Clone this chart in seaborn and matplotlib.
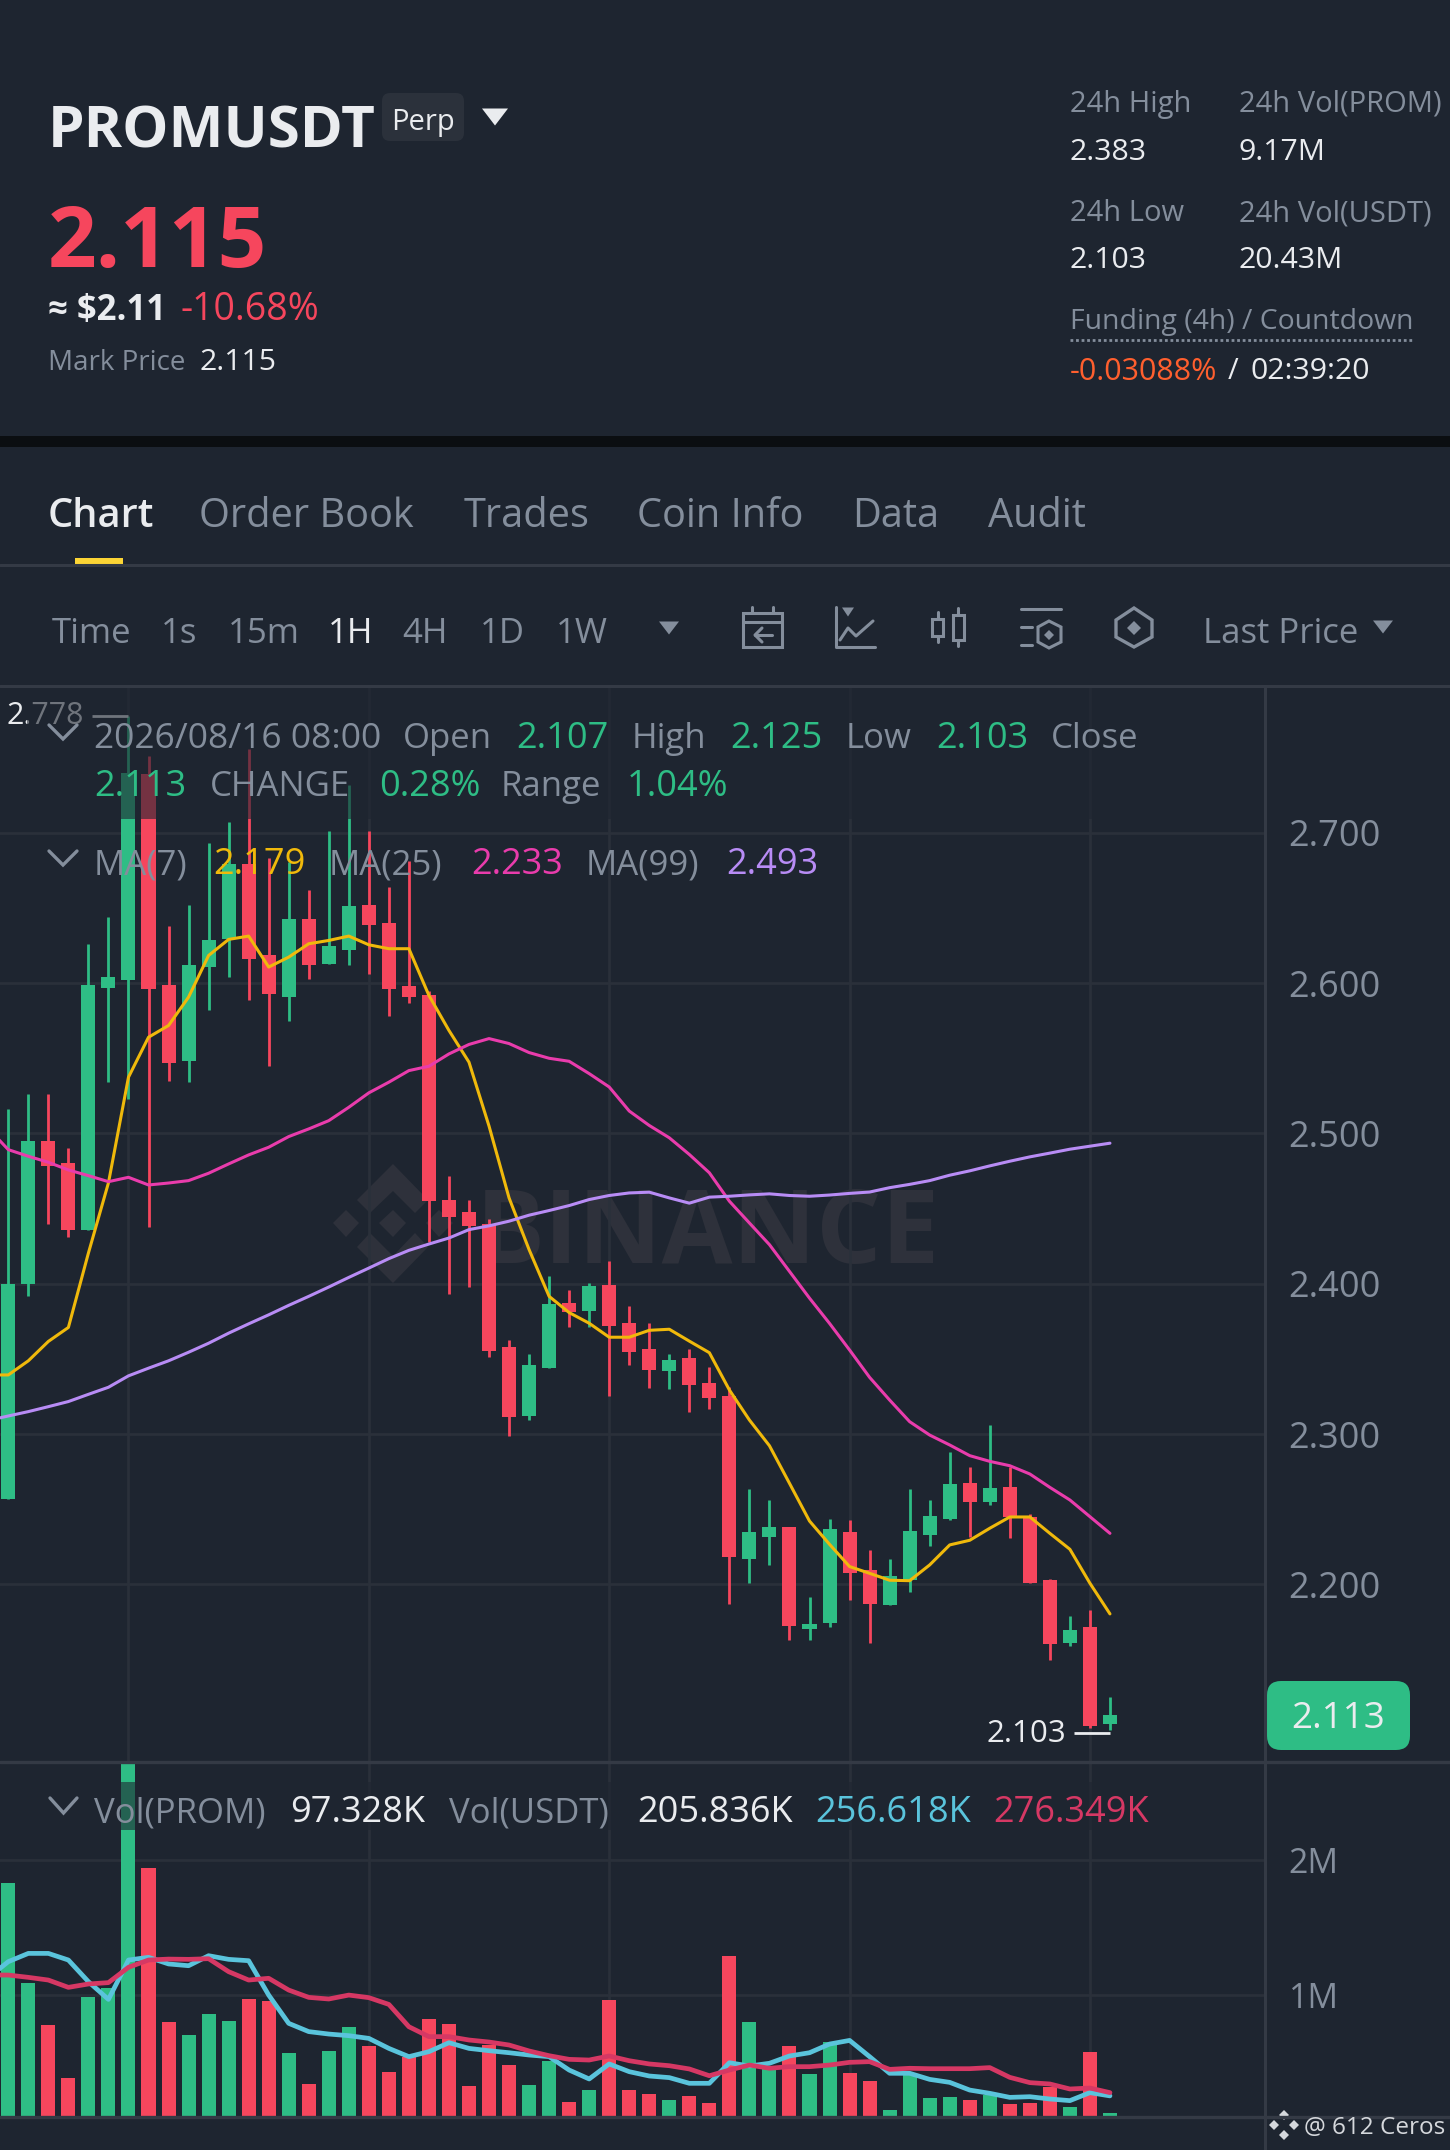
#!/usr/bin/env python

import numpy as np
import seaborn as sb
import matplotlib.pyplot as plt
from matplotlib.patches import FancyBboxPatch, Polygon, Rectangle

BG = "#1E2530"
GREEN = "#2EBD85"
RED = "#F6465D"
GREY = "#848E9C"
WHITE = "#EAECEF"
GRID = "#2A303A"
EDGE = "#343A45"

opens = [2.257, 2.400, 2.495, 2.480, 2.436, 2.597, 2.602, 2.739, 2.599, 2.5485, 2.611, 2.6295, 2.679, 2.619,
         2.591, 2.643, 2.613, 2.622, 2.652, 2.640, 2.598, 2.592, 2.456, 2.4474, 2.440, 2.358, 2.3117, 2.3438,
         2.3875, 2.3816, 2.3994, 2.3737, 2.3563, 2.3417, 2.3504, 2.3337, 2.3255, 2.2169, 2.2317, 2.2384, 2.1701,
         2.1741, 2.2346, 2.2095, 2.186, 2.2029, 2.2328, 2.2437, 2.2676, 2.2548, 2.2647, 2.2446, 2.2029, 2.1608,
         2.1718, 2.107]
closes = [2.400, 2.495, 2.478, 2.436, 2.599, 2.604, 2.740, 2.596, 2.547, 2.612, 2.629, 2.679, 2.616, 2.593,
          2.643, 2.612, 2.625, 2.651, 2.639, 2.596, 2.591, 2.455, 2.4445, 2.4386, 2.3554, 2.311, 2.3456, 2.3866,
          2.3813, 2.3985, 2.3716, 2.3547, 2.3428, 2.3495, 2.3329, 2.3237, 2.218, 2.2346, 2.2384, 2.1723, 2.1736,
          2.2366, 2.2078, 2.1871, 2.2058, 2.2357, 2.2457, 2.2667, 2.255, 2.2639, 2.2446, 2.2011, 2.1601, 2.1698,
          2.1058, 2.113]
highs = [2.516, 2.526, 2.526, 2.490, 2.626, 2.644, 2.778, 2.751, 2.638, 2.652, 2.693, 2.707, 2.756, 2.683,
         2.6805, 2.662, 2.701, 2.732, 2.701, 2.664, 2.681, 2.595, 2.472, 2.456, 2.443, 2.3625, 2.3535, 2.4053,
         2.3956, 2.4005, 2.4153, 2.3854, 2.3737, 2.3535, 2.3563, 2.3443, 2.331, 2.2636, 2.2559, 2.2384, 2.1918,
         2.2437, 2.2428, 2.2228, 2.2166, 2.2636, 2.2559, 2.2878, 2.2778, 2.3058, 2.2783, 2.2468, 2.2038, 2.1789,
         2.1829, 2.125]
lows = [2.257, 2.392, 2.440, 2.431, 2.436, 2.534, 2.523, 2.438, 2.535, 2.534, 2.582, 2.604, 2.589, 2.545,
        2.5745, 2.603, 2.613, 2.612, 2.606, 2.578, 2.587, 2.4277, 2.393, 2.3975, 2.351, 2.299, 2.309, 2.3438,
        2.3709, 2.3713, 2.3255, 2.3456, 2.3309, 2.3297, 2.3148, 2.3169, 2.187, 2.201, 2.2129, 2.163, 2.163,
        2.1718, 2.1896, 2.1612, 2.186, 2.1949, 2.2257, 2.2428, 2.2317, 2.2528, 2.2308, 2.2011, 2.1499, 2.159,
        2.1042, 2.103]

volumes = [1.828, 1.094, 0.778, 0.387, 0.988, 1.052, 2.71, 1.938, 0.803, 0.709, 0.860, 0.808, 0.970, 0.958,
           0.571, 0.345, 0.589, 0.768, 0.628, 0.431, 0.547, 0.825, 0.788, 0.328, 0.633, 0.483, 0.335, 0.517,
           0.209, 0.298, 0.966, 0.300, 0.268, 0.227, 0.254, 0.202, 1.288, 0.805, 0.461, 0.626, 0.416, 0.658,
           0.429, 0.369, 0.155, 0.411, 0.244, 0.251, 0.227, 0.264, 0.195, 0.205, 0.325, 0.175, 0.579, 0.128]

# moving averages start one hour left of the first visible candle
ma7 = [2.3393, 2.3393, 2.3487, 2.3616, 2.3709, 2.4204, 2.4671, 2.5374, 2.564, 2.5718, 2.5907, 2.6184, 2.6291,
       2.6313, 2.6107, 2.6173, 2.6262, 2.6284, 2.6313, 2.6255, 2.6229, 2.6229, 2.5918, 2.5685, 2.5474, 2.5049,
       2.4571, 2.4227, 2.3916, 2.3808, 2.3737, 2.3644, 2.3644, 2.369, 2.3697, 2.3618, 2.3541, 2.3293, 2.3093,
       2.2922, 2.2672, 2.2421, 2.2266, 2.2118, 2.2073, 2.2027, 2.2024, 2.2129, 2.2262, 2.2293, 2.2373, 2.2448,
       2.2448, 2.2339, 2.2233, 2.2007, 2.1803]
ma25 = [2.5033, 2.4892, 2.4848, 2.4808, 2.4757, 2.4719, 2.4679, 2.4708, 2.4657, 2.467, 2.4686, 2.4735, 2.4797,
        2.4857, 2.4908, 2.4979, 2.503, 2.5085, 2.5174, 2.527, 2.5341, 2.5418, 2.5447, 2.5529, 2.5592, 2.5631,
        2.5598, 2.5538, 2.55, 2.548, 2.5398, 2.5309, 2.5149, 2.5053, 2.4971, 2.486, 2.4738, 2.4549, 2.4404,
        2.426, 2.4082, 2.3904, 2.3736, 2.3559, 2.3377, 2.3226, 2.3082, 2.2993, 2.2927, 2.2856, 2.2818, 2.2789,
        2.2734, 2.2645, 2.2561, 2.245, 2.2339]
ma99 = [2.309, 2.312, 2.3149, 2.3182, 2.3216, 2.3264, 2.3311, 2.3387, 2.3438, 2.3487, 2.3544, 2.3604, 2.3671,
        2.3733, 2.3793, 2.3856, 2.3916, 2.3978, 2.4042, 2.4104, 2.4167, 2.4222, 2.4264, 2.4304, 2.436, 2.4385,
        2.4416, 2.4456, 2.4487, 2.452, 2.456, 2.4587, 2.4604, 2.4609, 2.4571, 2.4536, 2.4576, 2.4582, 2.4591,
        2.4598, 2.4587, 2.4582, 2.459, 2.4601, 2.461, 2.4639, 2.4661, 2.4686, 2.4722, 2.4751, 2.4784, 2.4815,
        2.4844, 2.4869, 2.4895, 2.4915, 2.4935]
vol_ma_fast = [1.13, 1.249, 1.310, 1.310, 1.261, 1.101, 0.970, 1.261, 1.281, 1.232, 1.219, 1.293, 1.266, 1.256,
               1.002, 0.793, 0.732, 0.714, 0.702, 0.682, 0.608, 0.547, 0.584, 0.650, 0.608, 0.591, 0.576, 0.559,
               0.547, 0.448, 0.382, 0.493, 0.436, 0.404, 0.392, 0.350, 0.350, 0.502, 0.478, 0.498, 0.552, 0.576,
               0.640, 0.667, 0.547, 0.424, 0.424, 0.379, 0.357, 0.300, 0.276, 0.246, 0.251, 0.234, 0.222, 0.281,
               0.257]
vol_ma_slow = [1.15, 1.150, 1.133, 1.113, 1.059, 1.084, 1.094, 1.207, 1.261, 1.268, 1.266, 1.271, 1.175, 1.113,
               1.126, 1.039, 0.985, 0.973, 1.002, 0.983, 0.933, 0.768, 0.695, 0.695, 0.670, 0.655, 0.633, 0.589,
               0.554, 0.527, 0.522, 0.552, 0.517, 0.493, 0.480, 0.456, 0.406, 0.448, 0.485, 0.461, 0.473, 0.473,
               0.485, 0.505, 0.510, 0.453, 0.461, 0.458, 0.458, 0.458, 0.466, 0.394, 0.355, 0.345, 0.308, 0.315,
               0.281]

price_ticks = [2.2, 2.3, 2.4, 2.5, 2.6, 2.7]
vol_ticks = [1, 2]
vol_tick_labels = ["1M", "2M"]
time_grid = [6, 18, 30, 42, 54]

W, H = 1450, 2150


def px_axes(fig, left, top, right, bottom, **kw):
    return fig.add_axes([left / W, 1 - bottom / H, (right - left) / W, (bottom - top) / H], **kw)


def style_axes(ax, tick_size):
    ax.patch.set_alpha(0)
    for spine in ax.spines.values():
        spine.set_visible(False)
    ax.set_xlim(-0.414, 62.74)
    ax.set_xticks(time_grid)
    ax.set_xticklabels([])
    ax.tick_params(axis="x", length=0)
    ax.yaxis.tick_right()
    ax.tick_params(axis="y", length=0, pad=17, labelsize=tick_size, labelcolor=GREY)
    for tick in ax.get_yticklabels():
        tick.set_va("center_baseline")
    ax.grid(True, color=GRID, linewidth=2)
    ax.set_axisbelow(True)
    ax.set_xlabel(None)
    ax.set_ylabel(None)


def draw_watermark(ax):
    parts = [
        [(357, 1200), (393, 1164), (428, 1200), (415, 1213), (393, 1191), (370, 1213)],
        [(357, 1247), (393, 1283), (428, 1247), (415, 1233), (393, 1256), (370, 1233)],
        [(393, 1210), (406, 1223), (393, 1237), (379, 1223)],
        [(346, 1210), (359, 1223), (346, 1237), (333, 1223)],
        [(439, 1210), (453, 1223), (439, 1237), (426, 1223)],
    ]
    for part in parts:
        ax.add_patch(Polygon(part, closed=True, color="#2E313B", lw=0))
    ax.text(476, 1224, "BINANCE", color="#2E313B", fontsize=74, fontweight="bold",
            va="center_baseline", ha="left")


def draw_price_panel(ax):
    hours = np.arange(len(opens))
    op, cl = np.array(opens), np.array(closes)
    up = cl >= op
    colors = [GREEN if u else RED for u in up]
    ax.vlines(hours, lows, highs, colors=colors, linewidth=2, zorder=2)
    ax.bar(hours, np.abs(cl - op), bottom=np.minimum(op, cl), width=0.7, color=colors, linewidth=0, zorder=2)

    ma_hours = np.arange(-1, len(opens))
    sb.lineplot(x=ma_hours, y=ma7, ax=ax, color="#F0B90B", linewidth=2.2, zorder=3)
    sb.lineplot(x=ma_hours, y=ma25, ax=ax, color="#E93CAC", linewidth=2.2, zorder=3)
    sb.lineplot(x=ma_hours, y=ma99, ax=ax, color="#B88CF5", linewidth=2.2, zorder=3)

    ax.set_ylim(2.0811, 2.7977)
    ax.set_yticks(price_ticks)
    ax.set_yticklabels([f"{t:.3f}" for t in price_ticks])
    style_axes(ax, 26)

    # highest / lowest markers
    ax.hlines(max(highs), 4.2, 6, color=WHITE, linewidth=2, zorder=3)
    ax.text(3.8, max(highs) + 0.002, "2.778", color=WHITE, fontsize=22, ha="right", va="center_baseline", zorder=3)
    ax.hlines(min(lows) - 0.002, 53.2, 55, color=WHITE, linewidth=2, zorder=3)
    ax.text(52.8, min(lows), "2.103", color=WHITE, fontsize=22.5, ha="right", va="center_baseline", zorder=3)


def draw_volume_panel(ax):
    hours = np.arange(len(volumes))
    direction = ["up" if c >= o else "down" for o, c in zip(opens, closes)]
    sb.barplot(x=hours, y=volumes, hue=direction, palette={"up": GREEN, "down": RED}, native_scale=True,
               dodge=False, width=0.7, saturation=1, linewidth=0, legend=False, ax=ax, zorder=2)
    ma_hours = np.arange(-1, len(volumes))
    sb.lineplot(x=ma_hours, y=vol_ma_fast, ax=ax, color="#5AC4DC", linewidth=3.4, zorder=3)
    sb.lineplot(x=ma_hours, y=vol_ma_slow, ax=ax, color="#D63864", linewidth=3.4, zorder=3)
    ax.set_ylim(0.101, 2.717)
    ax.set_yticks(vol_ticks)
    ax.set_yticklabels(vol_tick_labels)
    style_axes(ax, 24.5)


def draw_chevron(ui, x0, x1, y0, y1):
    ui.plot([x0, (x0 + x1) / 2, x1], [y0, y1, y0], color=GREY, linewidth=2.4, solid_joinstyle="miter")


def draw_triangle(ui, cx, cy, w, h, color):
    ui.add_patch(Polygon([(cx - w / 2, cy - h / 2), (cx + w / 2, cy - h / 2), (cx, cy + h / 2)],
                         closed=True, color=color, lw=0))


def draw_icons(ui):
    kw = dict(color=GREY, linewidth=2.2, solid_capstyle="round")
    # calendar
    ui.add_patch(Rectangle((743, 613), 39, 34, fill=False, edgecolor=GREY, linewidth=2.2))
    ui.plot([743, 782], [622, 622], **kw)
    ui.plot([752, 752], [607, 613], **kw)
    ui.plot([773, 773], [607, 613], **kw)
    ui.plot([755, 772], [635, 635], **kw)
    ui.plot([762, 755, 762], [628, 635, 642], **kw)
    # indicator chart
    ui.plot([836, 836, 875], [607, 647, 647], **kw)
    ui.plot([840, 848, 856, 873], [640, 628, 636, 621], **kw)
    draw_triangle(ui, 848, 612, 12, 9, GREY)
    # candles
    ui.add_patch(Rectangle((932, 619), 11, 17, fill=False, edgecolor=GREY, linewidth=2.2))
    ui.add_patch(Rectangle((953, 615), 11, 25, fill=False, edgecolor=GREY, linewidth=2.2))
    ui.plot([938, 938], [612, 619], **kw)
    ui.plot([938, 938], [636, 642], **kw)
    ui.plot([958, 958], [608, 615], **kw)
    ui.plot([958, 958], [640, 646], **kw)
    # settings with hexagon
    ui.plot([1021, 1061], [609, 609], **kw)
    ui.plot([1021, 1032], [627, 627], **kw)
    ui.plot([1021, 1032], [645, 645], **kw)
    ui.add_patch(Polygon([(1049, 621), (1061, 627), (1061, 642), (1049, 648), (1038, 642), (1038, 627)],
                         closed=True, fill=False, edgecolor=GREY, linewidth=2.2))
    ui.add_patch(Polygon([(1049, 630), (1054, 635), (1049, 640), (1044, 635)], closed=True, color=GREY, lw=0))
    # hexagon
    ui.add_patch(Polygon([(1134, 608), (1152, 620), (1152, 637), (1134, 647), (1116, 637), (1116, 620)],
                         closed=True, fill=False, edgecolor=GREY, linewidth=2.4))
    ui.add_patch(Polygon([(1134, 621), (1141, 628), (1134, 635), (1127, 628)], closed=True, color=GREY, lw=0))


def draw_ui(ui):
    def label(x, y, s, color=GREY, size=21, weight="normal", ha="left"):
        ui.text(x, y, s, color=color, fontsize=size, fontweight=weight, ha=ha, va="center_baseline")

    # dim band under the legend rows, candles show through it
    ui.add_patch(Rectangle((27, 686), 1123, 133, color=BG, alpha=0.6, lw=0))
    ui.add_patch(Rectangle((27, 1782), 1123, 48, color=BG, alpha=0.6, lw=0))

    # header
    ui.add_patch(Rectangle((0, 436), W, 11, color="#0B0E11", lw=0))
    label(48, 125, "PROMUSDT", WHITE, 42, "bold")
    ui.add_patch(FancyBboxPatch((382, 93), 82, 48, boxstyle="round,pad=0,rounding_size=8", color="#2B313B", lw=0))
    label(423, 119, "Perp", WHITE, 21, ha="center")
    draw_triangle(ui, 495, 117, 26, 17, WHITE)
    label(48, 235, "2.115", RED, 61.5, "bold")
    label(48, 306, "≈ $2.11", WHITE, 25, "bold")
    label(181, 306, "-10.68%", RED, 27)
    label(48, 359, "Mark Price", GREY, 20)
    label(200, 359, "2.115", WHITE, 21.8)

    label(1070, 101, "24h High")
    label(1239, 101, "24h Vol(PROM)")
    label(1070, 149, "2.383", WHITE, 21.8)
    label(1239, 149, "9.17M", WHITE, 21.8)
    label(1070, 210, "24h Low")
    label(1239, 210, "24h Vol(USDT)")
    label(1070, 257, "2.103", WHITE, 21.8)
    label(1239, 257, "20.43M", WHITE, 21.8)
    label(1070, 318, "Funding (4h) / Countdown", GREY, 20.4)
    ui.plot([1070, 1413], [340, 340], color=GREY, linewidth=2, linestyle=(0, (1, 1)))
    label(1070, 368, "-0.03088%", "#FF5F2E", 22)
    label(1228, 368, "/", WHITE)
    label(1251, 368, "02:39:20", WHITE, 21.8)

    # tabs
    for x, s in zip([199, 464, 637, 852, 988], ["Order Book", "Trades", "Coin Info", "Data", "Audit"]):
        label(x, 512, s, GREY, 28.6)
    label(48, 512, "Chart", WHITE, 28.6, "semibold")
    ui.plot([0, W], [565, 565], color=EDGE, linewidth=2.2)
    ui.add_patch(Rectangle((75, 558), 48, 9, color="#FCD535", lw=0))

    # toolbar
    for x, s in zip([52, 161, 228, 402, 480, 556], ["Time", "1s", "15m", "4H", "1D", "1W"]):
        label(x, 630, s, GREY, 25)
    label(328, 630, "1H", WHITE, 25)
    draw_triangle(ui, 669, 628, 20, 13, GREY)
    draw_icons(ui)
    label(1203, 630, "Last Price", GREY, 25)
    draw_triangle(ui, 1383, 627, 20, 13, GREY)
    ui.plot([0, W], [686, 686], color=EDGE, linewidth=2.2)

    # panel frame
    ui.plot([1265, 1265], [686, H], color=EDGE, linewidth=2.2)
    ui.plot([0, W], [1762, 1762], color=EDGE, linewidth=2.4)
    ui.plot([0, W], [2117, 2117], color=EDGE, linewidth=2.4)

    # price legend
    draw_chevron(ui, 49, 77, 725, 739)
    label(94, 735, "2026/08/16 08:00", GREY, 25.5)
    for x, s in zip([403, 632, 846, 1051], ["Open", "High", "Low", "Close"]):
        label(x, 735, s, GREY, 25)
    for x, s in zip([516, 730, 936], ["2.107", "2.125", "2.103"]):
        label(x, 735, s, GREEN, 26)
    for x, s, c, z in zip([94, 210, 379, 501, 627], ["2.113", "CHANGE", "0.28%", "Range", "1.04%"],
                          [GREEN, GREY, GREEN, GREY, GREEN], [26, 25, 26, 25, 26]):
        label(x, 783, s, c, z)
    draw_chevron(ui, 49, 77, 851, 865)
    for x, s, c, z in zip([94, 213, 329, 471, 586, 726], ["MA(7)", "2.179", "MA(25)", "2.233", "MA(99)", "2.493"],
                          [GREY, "#F0B90B", GREY, "#E93CAC", GREY, "#B88CF5"], [25, 26, 25, 26, 25, 26]):
        label(x, 861, s, c, z)

    # badge for last price
    ui.add_patch(FancyBboxPatch((1267, 1681), 143, 69, boxstyle="round,pad=0,rounding_size=14", color=GREEN, lw=0))
    label(1338, 1714, "2.113", WHITE, 26.5, ha="center")

    # volume legend
    draw_chevron(ui, 50, 77, 1798, 1813)
    for x, s, c, z in zip([94, 290, 449, 637, 815, 993],
                          ["Vol(PROM)", "97.328K", "Vol(USDT)", "205.836K", "256.618K", "276.349K"],
                          [GREY, WHITE, GREY, WHITE, "#5AC4DC", "#D63864"], [25, 26, 25, 26, 26, 26]):
        label(x, 1809, s, c, z)

    # credit
    cx, cy = 1284, 2125
    for dx, dy in [(0, -10), (0, 10), (-10, 0), (10, 0)]:
        ui.add_patch(Polygon([(cx + dx, cy + dy - 5), (cx + dx + 5, cy + dy), (cx + dx, cy + dy + 5),
                              (cx + dx - 5, cy + dy)], closed=True, color="#D5D8DC", lw=0))
    label(1304, 2125, "@ 612 Ceros", "#D5D8DC", 17.5)


def main():
    sb.set_theme(style="dark", rc={"figure.facecolor": BG, "axes.facecolor": BG, "savefig.facecolor": BG})
    plt.rcParams["font.family"] = ["Open Sans", "DejaVu Sans"]

    fig = plt.figure(figsize=(W / 100, H / 100), dpi=100)

    back = px_axes(fig, 0, 0, W, H, zorder=0)
    back.set_xlim(0, W)
    back.set_ylim(H, 0)
    back.axis("off")
    draw_watermark(back)

    price_ax = px_axes(fig, 0, 686, 1265, 1763, zorder=1)
    draw_price_panel(price_ax)
    vol_ax = px_axes(fig, 0, 1763, 1265, 2117, zorder=1)
    draw_volume_panel(vol_ax)

    ui = px_axes(fig, 0, 0, W, H, zorder=2)
    ui.set_xlim(0, W)
    ui.set_ylim(H, 0)
    ui.axis("off")
    draw_ui(ui)

    fig.savefig("out.png", dpi=100, facecolor=BG)


if __name__ == "__main__":
    main()
